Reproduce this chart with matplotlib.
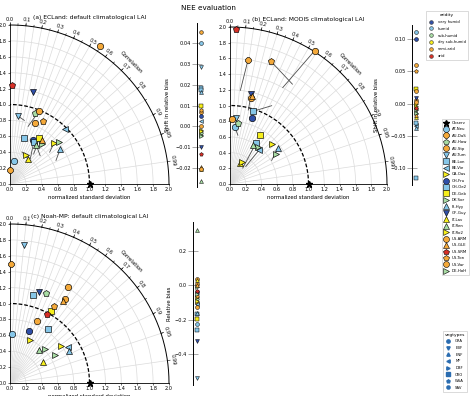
import numpy as np
import matplotlib.pyplot as plt
from matplotlib.lines import Line2D

sites = ['AT-Neu', 'AU-DaS', 'AU-How', 'AU-Stp', 'AU-Tum', 'BE-Lon', 'BE-Vie', 'CA-Oas',
         'CH-Fru', 'CH-Oe2', 'DE-Geb', 'DK-Sor', 'FI-Hyy', 'GF-Guy', 'IT-Lav', 'IT-Ren',
         'IT-Ro2', 'US-ARM', 'US-GLE', 'US-SRM', 'US-Ton', 'US-Var', 'DE-HoH']
site_veg = ['GRA', 'SAV', 'WSA', 'GRA', 'EBF', 'CRO', 'MF', 'DBF', 'GRA', 'CRO', 'CRO', 'DBF',
            'ENF', 'EBF', 'ENF', 'ENF', 'DBF', 'GRA', 'ENF', 'WSA', 'WSA', 'GRA', 'DBF']
site_arid = ['humid', 'semi-arid', 'sub-humid', 'semi-arid', 'humid', 'humid', 'humid',
             'dry sub-humid', 'very humid', 'humid', 'dry sub-humid', 'sub-humid', 'humid',
             'very humid', 'dry sub-humid', 'sub-humid', 'dry sub-humid', 'semi-arid',
             'semi-arid', 'arid', 'semi-arid', 'semi-arid', 'sub-humid']

veg_types = ['GRA', 'EBF', 'ENF', 'MF', 'DBF', 'CRO', 'WSA', 'SAV']
veg_markers = ['o', 'v', '^', '<', '>', 's', 'p', '8']
aridity = ['very humid', 'humid', 'sub-humid', 'dry sub-humid', 'semi-arid', 'arid']
arid_colors = ['#2f4fa8', '#86c6e8', '#a8dca4', '#f6ee1c', '#f4a93a', '#d73027']

# (a) ECLand default LAI
std_a = [0.29, 0.18, 0.94, 2.07, 0.86, 0.60, 0.98, 0.76, 0.63, 0.61, 0.68, 0.64,
         0.77, 1.19, 0.39, 0.59, 0.42, 0.83, 0.68, 1.25, 0.90, 0.99, 0.81]
corr_a = [0.17, 0.02, 0.33, 0.545, 0.12, 0.30, 0.71, 0.73, 0.46, 0.49, 0.54, 0.62,
          0.82, 0.245, 0.58, 0.56, 0.475, 0.38, 0.59, 0.02, 0.465, 0.37, 0.755]
tail_std_a = [np.nan, np.nan, np.nan, np.nan, 0.82, np.nan, np.nan, 0.64, np.nan, 0.41, 0.48, np.nan,
              0.65, np.nan, 0.43, 0.52, np.nan, np.nan, np.nan, np.nan, np.nan, 0.76, np.nan]
tail_corr_a = [np.nan, np.nan, np.nan, np.nan, 0.22, np.nan, np.nan, 0.78, np.nan, 0.625, 0.62, np.nan,
               0.89, np.nan, 0.35, 0.73, np.nan, np.nan, np.nan, np.nan, np.nan, 0.30, np.nan]
bias_a = [0.040, 0.0454, -0.003, 0.007, 0.0286, 0.0186, 0.0025, -0.0015, 0.005, 0.0175, 0.0097,
          -0.004, 0.0165, -0.0099, -0.0203, -0.026, -0.002, 0.0, -0.0195, -0.0131, 0.008,
          -0.0205, -0.0045]

# (b) ECLand MODIS LAI
std_b = [0.73, 1.60, 0.79, 2.01, 0.85, 0.97, 0.57, 0.74, 0.885, 0.62, 0.73, 0.59,
         0.77, 1.18, 0.29, 0.58, 0.32, 1.13, 1.16, 1.97, 1.65, 0.83, 0.70]
corr_b = [0.08, 0.144, 0.13, 0.536, 0.094, 0.30, 0.65, 0.73, 0.316, 0.536, 0.53, 0.60,
          0.80, 0.23, 0.42, 0.51, 0.47, 0.24, 0.24, 0.041, 0.314, 0.024, 0.84]
tail_std_b = [0.63, 1.20, np.nan, 1.40, np.nan, 1.13, 0.30, np.nan, np.nan, 0.26, np.nan, np.nan,
              0.61, 0.97, np.nan, np.nan, np.nan, np.nan, np.nan, np.nan, 1.50, np.nan, np.nan]
tail_corr_b = [0.16, 0.11, np.nan, 0.48, np.nan, 0.47, 0.67, np.nan, np.nan, 0.625, np.nan, np.nan,
               0.87, 0.24, np.nan, np.nan, np.nan, np.nan, np.nan, np.nan, 0.53, np.nan, np.nan]
bias_b = [0.111, 0.005, -0.008, 0.060, -0.033, -0.115, -0.035, -0.004, 0.100, -0.030, 0.023,
          -0.010, -0.037, 0.009, -0.020, -0.013, -0.001, 0.002, -0.017, -0.006, 0.050,
          0.020, -0.015]

# (c) Noah-MP default LAI
std_c = [0.62, 1.50, 1.22, 1.41, 1.75, 1.14, 0.86, 0.60, 0.70, 0.83, 1.05, 0.61,
         0.84, 1.205, 0.49, 0.56, 0.79, 1.265, 1.23, 0.99, 1.115, 0.85, 0.67]
corr_c = [0.05, 0.01, 0.37, 0.517, 0.103, 0.255, 0.851, 0.414, 0.342, 0.577, 0.496, 0.723,
          0.88, 0.299, 0.835, 0.661, 0.806, 0.545, 0.545, 0.475, 0.493, 0.40, 0.845]
bias_c = [-0.224, -0.10, -0.08, 0.04, -0.538, -0.165, -0.11, -0.07, -0.04, -0.262, -0.194,
          -0.01, -0.16, -0.325, 0.03, 0.325, -0.09, 0.01, 0.0, -0.03, -0.06, -0.126, -0.05]

corr_labels = [0.0, 0.1, 0.2, 0.3, 0.4, 0.5, 0.6, 0.7, 0.8, 0.9, 0.95, 0.99]

mk = dict(zip(veg_types, veg_markers))
col = dict(zip(aridity, arid_colors))

fig = plt.figure(figsize=(4.74, 3.96), dpi=100)
fig.text(208 / 474, 1 - 8 / 396, 'NEE evaluation', ha='center', va='center', fontsize=5.2)


def taylor(rect, std, corr, tail_std, tail_corr, title):
    ax = fig.add_axes(rect)
    ax.set_xlim(0, 2)
    ax.set_ylim(0, 2)
    for s in ['top', 'right']:
        ax.spines[s].set_visible(False)
    for s in ['left', 'bottom']:
        ax.spines[s].set_linewidth(0.6)
    ticks = np.arange(0, 2.01, 0.2)
    ax.set_xticks(ticks)
    ax.set_yticks(ticks)
    ax.set_xticklabels(['%.1f' % t for t in ticks])
    ax.set_yticklabels(['%.1f' % t for t in ticks])
    ax.tick_params(labelsize=3.6, length=1.5, width=0.4, pad=1)
    th = np.linspace(0, np.pi / 2, 200)
    for r in np.arange(0.2, 1.9, 0.2):
        if abs(r - 1) > 0.01:
            ax.plot(r * np.cos(th), r * np.sin(th), color='0.86', lw=0.5, zorder=1)
    for c in list(np.arange(0.05, 1.0, 0.05)) + [0.99]:
        a = np.arccos(c)
        ax.plot([0, 2 * np.cos(a)], [0, 2 * np.sin(a)], color='0.86', lw=0.5, zorder=1)
    ax.plot(2 * np.cos(th), 2 * np.sin(th), color='k', lw=0.7, clip_on=False, zorder=2)
    ax.plot(np.cos(th), np.sin(th), color='k', lw=0.9, ls=(0, (3, 1.5)), zorder=2)
    for c in np.arange(0.0, 1.0, 0.05):
        a = np.arccos(c)
        ax.plot([2 * np.cos(a), 2.02 * np.cos(a)], [2 * np.sin(a), 2.02 * np.sin(a)],
                color='k', lw=0.4, clip_on=False)
    for c in corr_labels:
        a = np.arccos(c)
        ax.plot([2 * np.cos(a), 2.035 * np.cos(a)], [2 * np.sin(a), 2.035 * np.sin(a)],
                color='k', lw=0.4, clip_on=False)
        ax.text(2.04 * np.cos(a), 2.04 * np.sin(a), str(c), fontsize=3.6,
                rotation=np.degrees(a) - 90, rotation_mode='anchor',
                ha='center', va='bottom', clip_on=False)
    ax.text(2.16 * np.cos(np.pi / 4), 2.16 * np.sin(np.pi / 4), 'Correlation', fontsize=3.9,
            rotation=-45, rotation_mode='anchor', ha='center', va='center')
    for i in range(len(std)):
        a = np.arccos(corr[i])
        x, y = std[i] * np.cos(a), std[i] * np.sin(a)
        if tail_std is not None and not np.isnan(tail_std[i]):
            b = np.arccos(tail_corr[i])
            ax.plot([x, tail_std[i] * np.cos(b)], [y, tail_std[i] * np.sin(b)],
                    color='0.3', lw=0.6, zorder=3)
        ax.plot(x, y, marker=mk[site_veg[i]], color=col[site_arid[i]], ms=4.6,
                mec='k', mew=0.45, ls='none', zorder=4, clip_on=False)
    ax.plot(1, 0, marker='*', color='k', ms=5, clip_on=False, zorder=5)
    ax.set_xlabel('normalized standard deviation', fontsize=3.9, labelpad=1.5)
    ax.set_title(title, fontsize=4.3, pad=4.5)
    return ax


def strip(rect, bias, ylim, yticks, labels, ylabel, pad):
    ax = fig.add_axes(rect)
    ax.patch.set_alpha(0)
    for i in range(len(bias)):
        ax.plot(0.3, bias[i], marker=mk[site_veg[i]], color=col[site_arid[i]], ms=2.8,
                mec='k', mew=0.35, ls='none', clip_on=False)
    ax.set_xlim(0, 1)
    ax.set_ylim(ylim)
    for s in ['top', 'right', 'bottom']:
        ax.spines[s].set_visible(False)
    ax.spines['left'].set_linewidth(0.7)
    ax.set_xticks([])
    ax.set_yticks(yticks)
    ax.set_yticklabels(labels)
    ax.tick_params(axis='y', direction='inout', length=7, width=0.4, labelsize=3.6, pad=1,
                   color='0.4')
    ax.set_ylabel(ylabel, fontsize=3.9, labelpad=pad)
    return ax


taylor([10 / 474, 1 - 184 / 396, 159 / 474, 159 / 396], std_a, corr_a, tail_std_a, tail_corr_a,
       '(a) ECLand: default climatological LAI')
taylor([230 / 474, 1 - 184 / 396, 157 / 474, 157 / 396], std_b, corr_b, tail_std_b, tail_corr_b,
       '(b) ECLand: MODIS climatological LAI')
taylor([10 / 474, 1 - 383 / 396, 159 / 474, 159 / 396], std_c, corr_c, None, None,
       '(c) Noah-MP: default climatological LAI')

strip([197 / 474, 1 - 187 / 396, 12 / 474, 164 / 396], bias_a, (-0.029, 0.0496),
      [0.04, 0.03, 0.02, 0.01, 0.0, -0.01, -0.02],
      ['0.04', '0.03', '0.02', '0.01', '0.00', '\u22120.01', '\u22120.02'],
      'Shift in relative bias', 4)
strip([412 / 474, 1 - 185 / 396, 12 / 474, 160 / 396], bias_b, (-0.126, 0.122),
      [0.10, 0.05, 0.0, -0.05, -0.10],
      ['0.10', '0.05', '0.00', '\u22120.05', '\u22120.10'],
      'Shift in relative bias', 8)
strip([193 / 474, 1 - 385 / 396, 12 / 474, 163 / 396], bias_c, (-0.58, 0.37),
      [0.2, 0.0, -0.2, -0.4], ['0.2', '0.0', '\u22120.2', '\u22120.4'],
      'Relative bias', 2)

# legends
h_arid = [Line2D([], [], marker='8', ls='none', color=c, mec='0.2', mew=0.4, ms=2.8)
          for c in arid_colors]
lg1 = fig.legend(h_arid, aridity, title='aridity', loc='upper left',
                 bbox_to_anchor=(424 / 474, 1 - 9 / 396), fontsize=2.7, title_fontsize=3.2,
                 handlelength=1.3, handletextpad=1.2, labelspacing=0.75, borderpad=0.6,
                 framealpha=1, edgecolor='0.8', fancybox=False)
lg1.get_frame().set_linewidth(0.5)

h_site = [Line2D([], [], marker='*', ls='none', color='k', ms=4.5)]
h_site += [Line2D([], [], marker=mk[site_veg[i]], ls='none', color=col[site_arid[i]],
                  mec='k', mew=0.4, ms=4.3) for i in range(len(sites))]
lg2 = fig.legend(h_site, ['Observ'] + sites, loc='upper left',
                 bbox_to_anchor=(440 / 474, 1 - 117 / 396), fontsize=2.8,
                 handlelength=1.2, handletextpad=0.9, labelspacing=0.63, borderpad=0.5,
                 framealpha=1, edgecolor='0.8', fancybox=False)
lg2.get_frame().set_linewidth(0.5)

h_veg = [Line2D([], [], marker=m, ls='none', color='#2a6cb0', ms=2.4) for m in veg_markers]
lg3 = fig.legend(h_veg, veg_types, title='vegtypes', loc='upper left',
                 bbox_to_anchor=(441 / 474, 1 - 329 / 396), fontsize=2.7, title_fontsize=3.2,
                 handlelength=1.3, handletextpad=1.2, labelspacing=0.7, borderpad=0.5,
                 framealpha=1, edgecolor='0.8', fancybox=False)
lg3.get_frame().set_linewidth(0.5)

plt.savefig('out.png', dpi=100)
